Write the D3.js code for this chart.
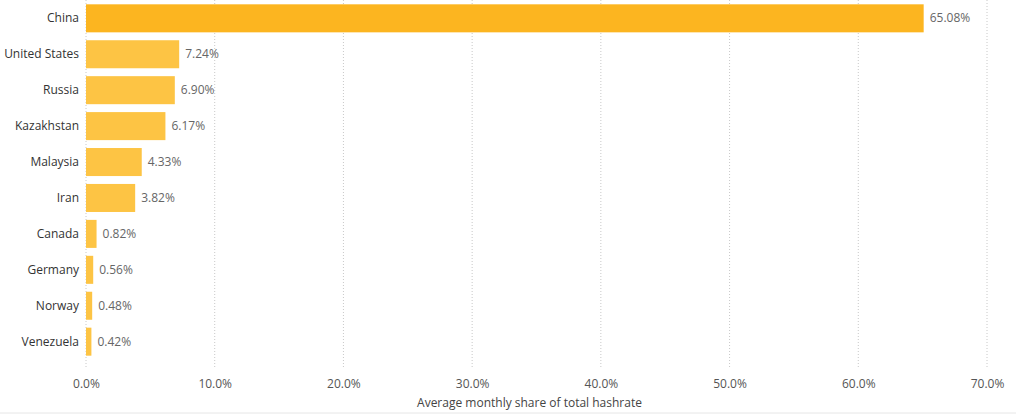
<!DOCTYPE html>
<html>
<head>
<meta charset="utf-8">
<script src="https://cdn.jsdelivr.net/npm/d3@7"></script>
<style>
  body { margin: 0; background: #fff; }
  text { font-family: 'Open Sans', sans-serif; }
</style>
</head>
<body>
<div id="chart"></div>
<script>
var countries = ['China', 'United States', 'Russia', 'Kazakhstan', 'Malaysia', 'Iran', 'Canada', 'Germany', 'Norway', 'Venezuela'];
var shares = [65.08, 7.24, 6.90, 6.17, 4.33, 3.82, 0.82, 0.56, 0.48, 0.42];
var ticks = [0, 10, 20, 30, 40, 50, 60, 70];

var svgWidth = 1016;
var svgHeight = 416;
var margin = { top: 0, right: 29, bottom: 56, left: 86 };
var width = svgWidth - margin.left - margin.right;
var height = svgHeight - margin.top - margin.bottom;

var svg = d3.select('#chart')
  .append('svg')
  .attr('width', svgWidth)
  .attr('height', svgHeight);

var chartGroup = svg.append('g')
  .attr('transform', `translate(${margin.left}, ${margin.top})`);

var x = d3.scaleLinear().domain([0, 70]).range([0, width]);
var y = d3.scaleBand().domain(countries).range([0, height]).paddingInner(0.22).paddingOuter(0.12);

// dotted gridlines
chartGroup.selectAll('.grid')
  .data(ticks)
  .enter()
  .append('line')
  .attr('x1', d => x(d)).attr('x2', d => x(d))
  .attr('y1', 0).attr('y2', height + 8)
  .attr('stroke', '#c8c8c8')
  .attr('stroke-dasharray', '1,2');

chartGroup.selectAll('.bar')
  .data(countries)
  .enter()
  .append('rect')
  .attr('x', 0)
  .attr('y', d => y(d))
  .attr('width', (d, i) => x(shares[i]))
  .attr('height', y.bandwidth())
  .attr('fill', (d, i) => i === 0 ? '#fcb520' : '#fdc444');

chartGroup.selectAll('.val')
  .data(countries)
  .enter()
  .append('text')
  .attr('x', (d, i) => x(shares[i]) + 6)
  .attr('y', d => y(d) + y.bandwidth() / 2 + 4)
  .attr('font-size', 12)
  .attr('fill', '#666')
  .text((d, i) => shares[i].toFixed(2) + '%');

chartGroup.selectAll('.cat')
  .data(countries)
  .enter()
  .append('text')
  .attr('x', -7)
  .attr('y', d => y(d) + y.bandwidth() / 2 + 4)
  .attr('text-anchor', 'end')
  .attr('font-size', 12)
  .attr('fill', '#333')
  .text(d => d);

var bottomAxis = d3.axisBottom(x).tickValues(ticks).tickFormat(d => d.toFixed(1) + '%').tickSize(0);
var axisG = chartGroup.append('g')
  .attr('transform', `translate(0, ${height + 16})`)
  .call(bottomAxis);
axisG.select('.domain').remove();
axisG.selectAll('text')
  .attr('font-family', "'Open Sans', sans-serif")
  .attr('font-size', 12)
  .attr('fill', '#555');

chartGroup.append('text')
  .attr('x', width / 2 - 7)
  .attr('y', height + 47)
  .attr('text-anchor', 'middle')
  .attr('font-size', 12)
  .attr('fill', '#444')
  .text('Average monthly share of total hashrate');

svg.append('line')
  .attr('x1', 0).attr('x2', svgWidth)
  .attr('y1', 413).attr('y2', 413)
  .attr('stroke', '#e6e6e6');
</script>
</body>
</html>
